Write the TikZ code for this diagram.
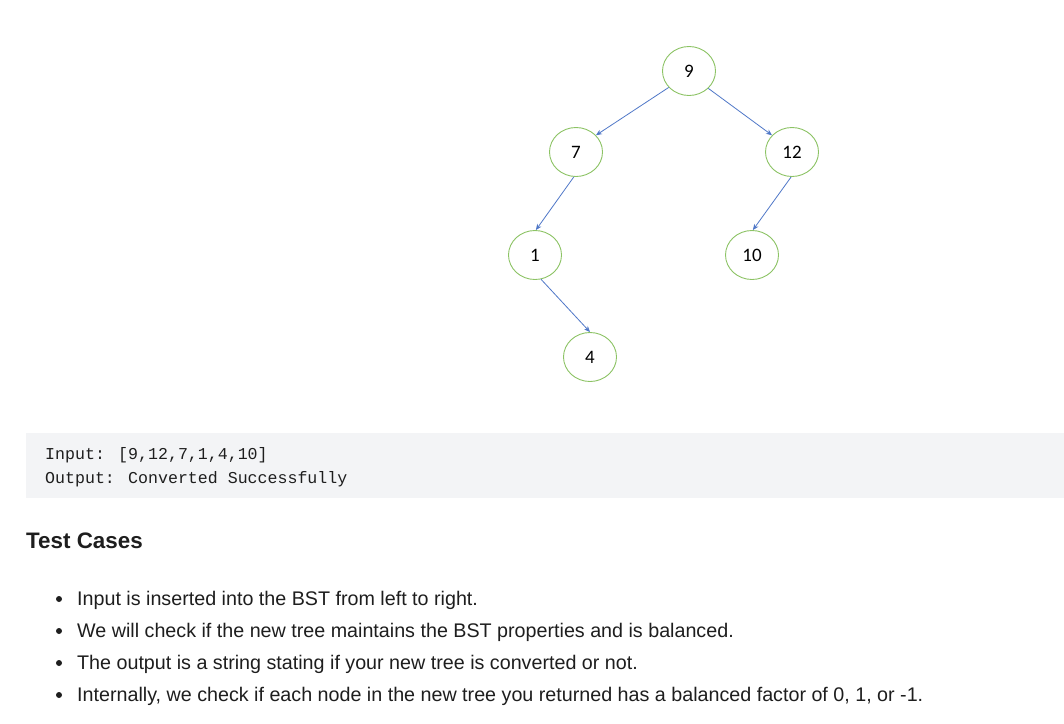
\documentclass[tikz,border=0pt]{standalone}
\usepackage{fontspec}
\setmainfont{Liberation Sans}
\newfontfamily\treefont{Carlito}
\newfontfamily\codefont{Liberation Mono}
\usetikzlibrary{shapes.geometric,arrows.meta}
\definecolor{nodegreen}{RGB}{140,195,100}
\definecolor{edgeblue}{RGB}{80,120,200}
\definecolor{codebg}{RGB}{243,244,246}
\definecolor{txt}{RGB}{30,30,30}
\tikzset{
  treenode/.style={ellipse,draw=nodegreen,line width=0.9pt,minimum width=53pt,minimum height=49pt,inner sep=0pt,font=\treefont\fontsize{19}{19}\selectfont,text=black},
  edge/.style={draw=edgeblue,line width=0.8pt,-{Stealth[length=6pt,width=5pt]}},
  codeline/.style={anchor=base west,inner sep=0pt,font=\codefont\fontsize{16.6}{20}\selectfont,text=txt},
  bodyline/.style={anchor=base west,inner sep=0pt,font=\fontsize{19.7}{22}\selectfont,text=txt},
  bulletdot/.style={circle,fill=txt,inner sep=0pt,minimum size=6pt}
}
\begin{document}
\begin{tikzpicture}[x=1pt,y=-1pt]
\useasboundingbox[fill=white] (0,0) rectangle (1064,723);
% tree
\node[treenode] (n9) at (689,71) {9};
\node[treenode] (n7) at (576,152) {7};
\node[treenode] (n12) at (792,152) {12};
\node[treenode] (n1) at (535,255) {1};
\node[treenode] (n10) at (752,255) {10};
\node[treenode] (n4) at (590,357) {4};
\draw[edge] (n9.219) -- (n7.40);
\draw[edge] (n9.-42) -- (n12.140);
\draw[edge] (n7.-95) -- (n1.88);
\draw[edge] (n12.-92) -- (n10.88);
\draw[edge] (n1.-76) -- (n4.90);
% code box
\fill[codebg] (26,433) rectangle (1064,497.5);
\node[codeline] (c1) at (45,459) {Input: [9,12,7,1,4,10]};
\node[codeline] (c2) at (45,483) {Output: Converted Successfully};
% heading
\node[anchor=base west,inner sep=0pt,font=\bfseries\fontsize{22.4}{24}\selectfont,text=txt] (h) at (26,548) {Test Cases};
% bullets
\node[bulletdot] (b1) at (59,599) {};
\node[bodyline] (t1) at (77,605) {Input is inserted into the BST from left to right.};
\node[bulletdot] (b2) at (59,631) {};
\node[bodyline] (t2) at (77,637) {We will check if the new tree maintains the BST properties and is balanced.};
\node[bulletdot] (b3) at (59,663) {};
\node[bodyline] (t3) at (77,669) {The output is a string stating if your new tree is converted or not.};
\node[bulletdot] (b4) at (59,695) {};
\node[bodyline] (t4) at (77,701) {Internally, we check if each node in the new tree you returned has a balanced factor of 0, 1, or -1.};
\end{tikzpicture}
\end{document}
